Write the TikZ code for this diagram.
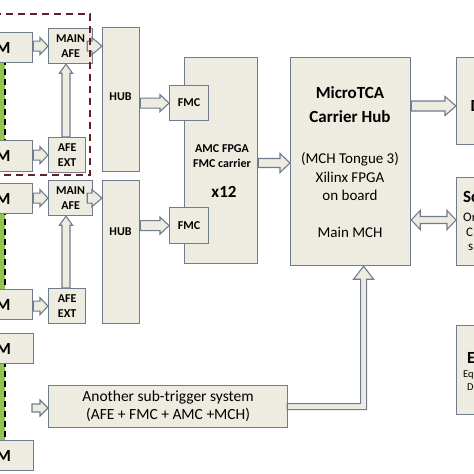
\documentclass[tikz,border=0pt]{standalone}
\usepackage{fontspec}
\setmainfont{Carlito}
\usetikzlibrary{calc}
\definecolor{boxc}{RGB}{238,236,225}
\definecolor{bordc}{RGB}{112,124,142}
\definecolor{greenc}{RGB}{146,196,78}
\definecolor{redd}{RGB}{96,32,40}
\newcommand{\harr}[5]{%
 \draw[arr] let \p1=(#1), \p2=(#2) in (\x1,\y1+#3) -- (\x2-#5,\y1+#3) -- (\x2-#5,\y1+#4) -- (\x2,\y1) -- (\x2-#5,\y1-#4) -- (\x2-#5,\y1-#3) -- (\x1,\y1-#3) -- cycle;}
\newcommand{\varr}[5]{%
 \draw[arr] let \p1=(#1), \p2=(#2) in (\x1-#3,\y1) -- (\x1-#3,\y2-#5) -- (\x1-#4,\y2-#5) -- (\x1,\y2) -- (\x1+#4,\y2-#5) -- (\x1+#3,\y2-#5) -- (\x1+#3,\y1) -- cycle;}
\newcommand{\darr}[5]{%
 \draw[arr] let \p1=(#1), \p2=(#2) in (\x1,\y1) -- (\x1+#5,\y1+#4) -- (\x1+#5,\y1+#3) -- (\x2-#5,\y1+#3) -- (\x2-#5,\y1+#4) -- (\x2,\y1) -- (\x2-#5,\y1-#4) -- (\x2-#5,\y1-#3) -- (\x1+#5,\y1-#3) -- (\x1+#5,\y1-#4) -- cycle;}
\begin{document}
\begin{tikzpicture}[x=1pt,y=-1pt,
  box/.style={draw=bordc, fill=boxc, line width=1.2pt, inner sep=0pt, anchor=north west, align=center},
  arr/.style={draw=bordc, fill=boxc, line width=1.1pt, line join=miter},
  sb/.style={font=\fontsize{12}{14.5}\selectfont\bfseries},
  big/.style={font=\fontsize{17}{21}\selectfont\bfseries},
  txt/.style={inner sep=0pt, align=center},
  reddash/.style={draw=redd, line width=2pt, dash pattern=on 7pt off 5pt},
  greenbar/.style={fill=greenc, draw=black, line width=2pt, dash pattern=on 6pt off 4pt}]
\useasboundingbox (0,0) rectangle (474,474);
% green bars
\path[greenbar] (-30,50) rectangle (5,145);
\path[greenbar] (-30,208) rectangle (5,294);
\path[greenbar] (-30,358) rectangle (5,445);
% left M boxes
\node[box, big, minimum width=59pt, minimum height=30pt] (m1) at (-27,32) {M};
\node[box, big, minimum width=59pt, minimum height=31pt] (m2) at (-27,140) {M};
\node[box, big, minimum width=59pt, minimum height=30pt] (m3) at (-27,183) {M};
\node[box, big, minimum width=59pt, minimum height=30pt] (m4) at (-27,289) {M};
\node[box, big, minimum width=60pt, minimum height=30pt] (m5) at (-27,333) {M};
\node[box, big, minimum width=60pt, minimum height=30pt] (m6) at (-27,440) {M};
% AFE boxes
\node[box, sb, minimum width=44pt, minimum height=35pt] (mafe1) at (48,28) {MAIN\\AFE};
\node[box, sb, minimum width=37pt, minimum height=35pt] (afe1) at (48,137) {AFE\\EXT};
\node[box, sb, minimum width=44pt, minimum height=35pt] (mafe2) at (48,180) {MAIN\\AFE};
\node[box, sb, minimum width=37pt, minimum height=35pt] (afe2) at (48,288) {AFE\\EXT};
% hubs
\node[box, minimum width=37pt, minimum height=144pt] (hub1) at (102,27) {};
\node[txt, sb] (hub1t) at (120.5,97) {HUB};
\node[box, minimum width=37pt, minimum height=143pt] (hub2) at (102,180) {};
\node[txt, sb] (hub2t) at (120.5,232) {HUB};
% AMC
\node[box, minimum width=73pt, minimum height=206pt] (amc) at (184,57) {};
\node[txt, sb] (amct) at (222,156) {AMC FPGA\\FMC carrier};
\node[txt, font=\fontsize{17}{20}\selectfont\bfseries] (x12) at (224,192) {x12};
\node[box, sb, minimum width=39pt, minimum height=35pt] (fmc1) at (169,85) {FMC};
\node[box, sb, minimum width=39pt, minimum height=36pt] (fmc2) at (169,207) {FMC};
% MCH
\node[box, minimum width=120pt, minimum height=208pt] (mch) at (290,57) {};
\node[txt, big] (mcht1) at (350,93) {MicroTCA};
\node[txt, big] (mcht2) at (350,117) {Carrier Hub};
\node[txt, font=\fontsize{15}{18.5}\selectfont] (mcht3) at (350,177) {(MCH Tongue 3)\\Xilinx FPGA\\on board};
\node[txt, font=\fontsize{15}{18}\selectfont] (mcht4) at (350,232) {Main MCH};
% right boxes
\node[box, minimum width=70pt, minimum height=87pt] (r1) at (456,57) {};
\node[txt, big, anchor=west] (r1t) at (470.5,106) {D};
\node[box, minimum width=70pt, minimum height=88pt] (r2) at (456,177) {};
\node[txt, big, anchor=west] (r2t) at (463,197) {Sc};
\node[txt, font=\fontsize{13}{15}\selectfont, anchor=west] (r2a) at (463,217) {Or};
\node[txt, font=\fontsize{13}{15}\selectfont, anchor=west] (r2b) at (466,232) {C};
\node[txt, font=\fontsize{13}{15}\selectfont, anchor=west] (r2c) at (468,247) {s};
\node[box, minimum width=70pt, minimum height=89pt] (r3) at (456,325) {};
\node[txt, big, anchor=west] (r3t) at (467,358) {E};
\node[txt, font=\fontsize{10.5}{13}\selectfont, anchor=west] (r3a) at (463,375) {Eq};
\node[txt, font=\fontsize{10.5}{13}\selectfont, anchor=west] (r3b) at (467,387) {D};
% another
\node[box, minimum width=239pt, minimum height=42pt, font=\fontsize{15.5}{18}\selectfont] (another) at (48,385) {Another sub-trigger system\\(AFE + FMC + AMC +MCH)};
\coordinate (anin) at (32,408);
% arrows
\harr{m1.east |- mafe1.west}{mafe1.west}{5pt}{8.5pt}{8pt}
\harr{m2.east |- afe1.west}{afe1.west}{5pt}{8.5pt}{8pt}
\harr{m3.east |- mafe2.west}{mafe2.west}{5pt}{8.5pt}{8pt}
\harr{m4.east |- afe2.west}{afe2.west}{5pt}{8.5pt}{8pt}
\varr{afe1.north -| 66,0}{mafe1.south}{4pt}{6.5pt}{9pt}
\varr{afe2.north -| 66,0}{mafe2.south}{4pt}{6.5pt}{9pt}
\harr{$(mafe1.east)+(-6,0)$}{hub1.west}{5pt}{8.5pt}{10pt}
\harr{$(mafe2.east)+(-6,0)$}{hub2.west}{5pt}{8.5pt}{10pt}
\harr{hub1.east |- fmc1.west}{fmc1.west}{5pt}{8.5pt}{9pt}
\harr{hub2.east |- fmc2.west}{fmc2.west}{5pt}{8.5pt}{9pt}
\harr{amc.east |- 0,163}{mch.west}{4.5pt}{9.5pt}{10pt}
\harr{mch.east |- 0,106}{r1.west}{5pt}{9.5pt}{11pt}
\darr{mch.east |- 0,220}{r2.west}{3.5pt}{9.5pt}{9pt}
\harr{anin}{another.west}{4pt}{8pt}{8pt}
\draw[arr] let \p1=(another.east), \p2=($(mch.south)+(13,0)$) in
  (\x1-1pt,\y1+3pt) -- (\x2-3pt,\y1+3pt) -- (\x2-3pt,\y2-13pt) -- (\x2-10pt,\y2-13pt) -- (\x2,\y2) -- (\x2+10pt,\y2-13pt) -- (\x2+3pt,\y2-13pt) -- (\x2+3pt,\y1-3pt) -- (\x1-1pt,\y1-3pt) -- cycle;
% red dashed frame
\draw[reddash] (-6,14) -- (90,14) -- (90,175) -- (-6,175);
\end{tikzpicture}
\end{document}
